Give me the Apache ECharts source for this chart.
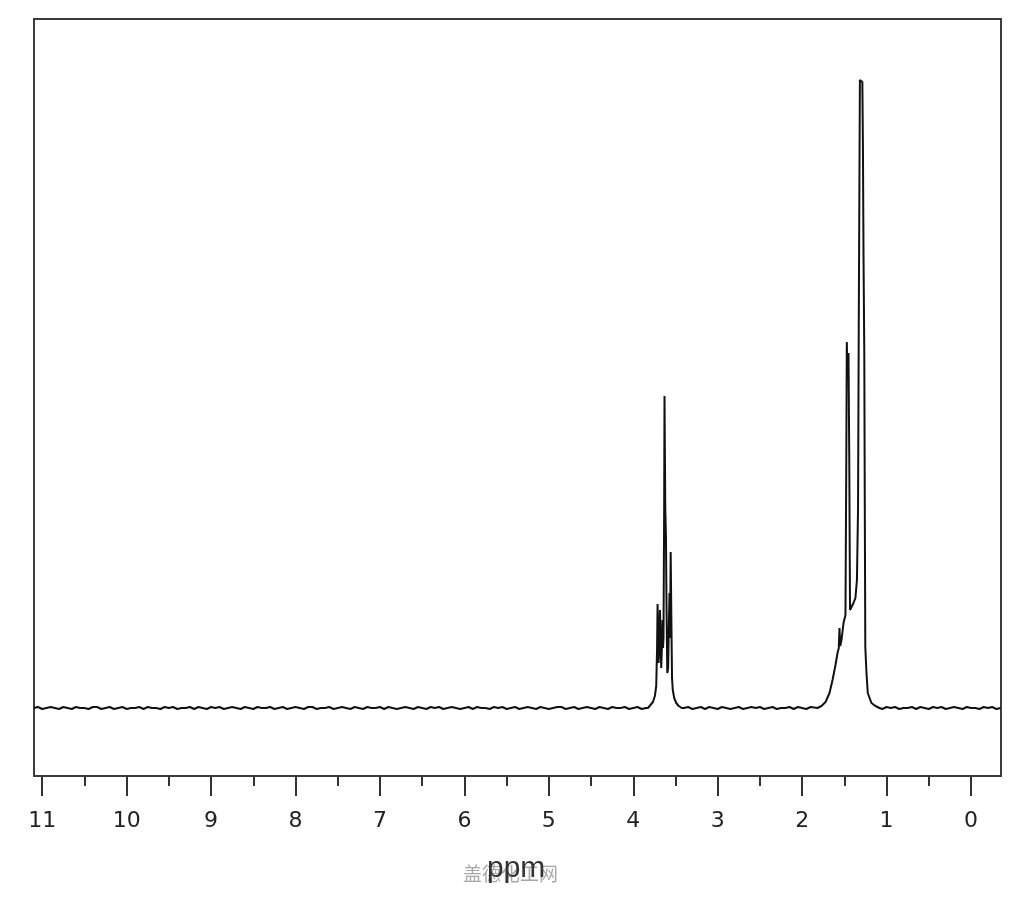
<!DOCTYPE html>
<html>
<head>
<meta charset="utf-8">
<script src="https://cdn.jsdelivr.net/npm/echarts@6/dist/echarts.min.js"></script>
<style>
  html, body { margin: 0; padding: 0; background: #fff; }
  #chart { width: 1024px; height: 900px; }
</style>
</head>
<body>
<div id="chart"></div>
<script>
// ---- data (chemical shift in ppm, intensity in arbitrary units; baseline = 0) ----
const majorTicks = [0, 1, 2, 3, 4, 5, 6, 7, 8, 9, 10, 11];
const tickLabels = ['0', '1', '2', '3', '4', '5', '6', '7', '8', '9', '10', '11'];
const minorTicks = [0.5, 1.5, 2.5, 3.5, 4.5, 5.5, 6.5, 7.5, 8.5, 9.5, 10.5];

// multiplet near 3.6 ppm
const cluster36Ppm = [3.826, 3.803, 3.767, 3.744, 3.728, 3.718, 3.712, 3.706, 3.700, 3.692,
  3.684, 3.677, 3.669, 3.661, 3.654, 3.648, 3.642, 3.634, 3.630, 3.624, 3.621,
  3.613, 3.606, 3.597, 3.587, 3.579, 3.571, 3.564, 3.557, 3.549, 3.541,
  3.532, 3.515, 3.491, 3.462, 3.426];
const cluster36Int = [0, 2, 6, 12, 22, 60, 104, 70, 45, 60,
  98, 70, 40, 60, 88, 60, 70, 200, 312, 310, 200,
  172, 100, 35, 40, 80, 115, 70, 156, 90, 30,
  18, 10, 5, 2, 0];

// group near 1.3 ppm
const cluster13Ppm = [1.889, 1.818, 1.771, 1.723, 1.676, 1.640, 1.605, 1.581, 1.566, 1.558,
  1.549, 1.534, 1.510, 1.487, 1.477, 1.471, 1.463, 1.451, 1.442, 1.433,
  1.416, 1.392, 1.369, 1.351, 1.338, 1.330, 1.322, 1.316, 1.308, 1.297, 1.287,
  1.280, 1.273, 1.264, 1.258, 1.252, 1.238, 1.223, 1.179, 1.132, 1.085];
const cluster13Int = [0, 0, 2, 6, 15, 28, 43, 55, 60, 80,
  62, 68, 85, 93, 250, 366, 330, 355, 250, 98,
  100, 105, 110, 128, 200, 374, 520, 628, 630, 630, 626,
  560, 450, 355, 200, 61, 35, 15, 5, 2, 0];

// baseline noise, read every 0.05 ppm starting at 11.10 ppm
const baselineStart = 11.10;
const baselineStep = 0.05;
const baselineNoise = [
  0,1,-1,0,1,0,-1,1,0,-1,
  1,0,0,-1,1,1,-1,0,1,-1,
  0,1,-1,0,0,1,-1,1,0,0,
  -1,1,0,1,-1,0,0,1,-1,1,
  0,-1,1,0,1,-1,0,1,0,-1,
  1,0,-1,1,0,0,1,-1,0,1,
  -1,0,1,0,-1,1,1,-1,0,0,
  1,-1,0,1,0,-1,1,0,-1,1,
  0,0,1,-1,1,0,-1,0,1,0,
  -1,1,0,-1,1,0,1,-1,0,1,
  0,-1,0,1,-1,1,0,0,-1,1,
  0,1,-1,0,1,-1,0,1,0,-1,
  1,0,-1,0,1,1,-1,0,1,-1,
  0,1,0,-1,1,0,-1,1,0,0,
  1,-1,0,1,-1,0,1,0,-1,1,
  0,-1,1,0,0,1,-1,0,1,-1,
  1,0,-1,1,0,-1,0,1,-1,0,
  1,0,1,-1,0,1,-1,0,0,1,
  -1,1,0,-1,1,0,0,-1,1,0,
  1,-1,0,1,0,-1,1,-1,0,1,
  0,-1,1,0,1,-1,0,0,1,-1,
  1,0,-1,1,0,1,-1,0,1,0,
  -1,1,0,0,-1,1,0,1,-1,0
];

// ---- build the trace ----
const clusters = [[cluster36Ppm, cluster36Int], [cluster13Ppm, cluster13Int]];
const ranges = clusters.map(c => [Math.min(...c[0]), Math.max(...c[0])]);
let points = [];
baselineNoise.forEach((v, i) => {
  const p = +(baselineStart - i * baselineStep).toFixed(3);
  if (!ranges.some(r => p >= r[0] && p <= r[1])) points.push([p, v]);
});
clusters.forEach(c => c[0].forEach((p, i) => points.push([p, c[1][i]])));
points.sort((a, b) => b[0] - a[0]);

const chart = echarts.init(document.getElementById('chart'), null, { renderer: 'canvas' });
chart.setOption({
  animation: false,
  backgroundColor: '#ffffff',
  grid: {
    left: 34, top: 19, width: 967, height: 757,
    show: true, borderColor: '#3c3c3c', borderWidth: 2, backgroundColor: '#ffffff'
  },
  xAxis: [
    {
      type: 'value', inverse: true, min: -0.355, max: 11.097, position: 'bottom',
      axisLine: { show: false, onZero: false },
      splitLine: { show: false },
      axisTick: { show: true, customValues: majorTicks, length: 20, lineStyle: { color: '#333', width: 2 } },
      axisLabel: {
        show: true, customValues: majorTicks, margin: 34,
        formatter: v => tickLabels[majorTicks.indexOf(Math.round(v))],
        fontFamily: 'DejaVu Sans', fontSize: 22, color: '#222'
      }
    },
    {
      type: 'value', inverse: true, min: -0.355, max: 11.097, position: 'bottom',
      axisLine: { show: false, onZero: false },
      splitLine: { show: false },
      axisTick: { show: true, customValues: minorTicks, length: 10, lineStyle: { color: '#333', width: 2 } },
      axisLabel: { show: false }
    }
  ],
  yAxis: { type: 'value', min: -68, max: 689, show: false },
  series: [{
    type: 'line',
    xAxisIndex: 0,
    data: points,
    showSymbol: false,
    symbol: 'none',
    lineStyle: { color: '#111', width: 2 },
    silent: true
  }],
  graphic: [
    {
      type: 'text', left: 463, top: 864, z: 10,
      style: { text: '盖德化工网', fontFamily: 'Noto Sans CJK SC', fontSize: 19, fill: '#a8a8a8' }
    },
    {
      type: 'text', left: 487, top: 854, z: 20,
      style: { text: 'ppm', fontFamily: 'Liberation Sans', fontSize: 30, fill: '#333' }
    }
  ]
});
</script>
</body>
</html>
